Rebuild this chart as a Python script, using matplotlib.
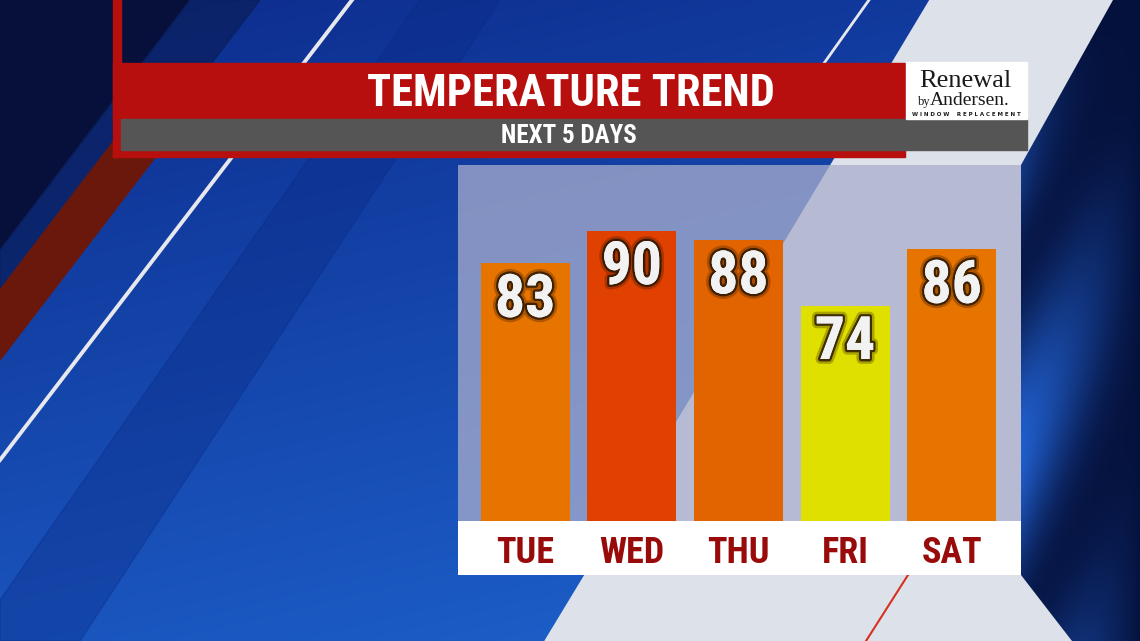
import numpy as np
import matplotlib
matplotlib.use('Agg')
import matplotlib.pyplot as plt
from matplotlib.patches import Rectangle, Polygon
from matplotlib import font_manager as fm
import matplotlib.patheffects as pe

# Datos del gráfico
days = ['TUE', 'WED', 'THU', 'FRI', 'SAT']
temps = [83, 90, 88, 74, 86]
bar_colors = ['#e87400', '#e04000', '#e26400', '#e0e000', '#e87400']
title = 'TEMPERATURE TREND'
subtitle = 'NEXT 5 DAYS'


# buscar una fuente estrecha en negrita (si no hay, Liberation Sans)
def narrow_font():
    entries = fm.fontManager.ttflist
    bold = [f for f in entries if (f.weight if isinstance(f.weight, int) else 400) >= 600
            or str(f.weight) in ('bold', 'heavy', 'black')]
    for key in ['Liberation Sans Narrow', 'Roboto Condensed', 'Open Sans Condensed']:
        for f in bold:
            if f.name == key:
                return f.fname
    for f in bold:
        if f.name in ('Noto Sans', 'Roboto', 'Open Sans') and f.stretch in ('condensed', 'semi-condensed'):
            return f.fname
    for f in bold:
        if f.name == 'DejaVu Sans' and f.stretch == 'condensed':
            return f.fname
    return None


nf = narrow_font()


def nprop(size):
    if nf:
        return fm.FontProperties(fname=nf, size=size)
    return fm.FontProperties(family=['Liberation Sans', 'DejaVu Sans'], weight='bold', size=size)


serif = ['Liberation Serif', 'DejaVu Serif']

fig = plt.figure(figsize=(11.4, 6.41), dpi=100)

# Fondo (coordenadas en pixeles)
bg = fig.add_axes([0, 0, 1, 1])
yy, xx = np.mgrid[0:641:4, 0:1140:4]
t = np.clip((yy / 641) * 0.7 + (xx / 1140) * 0.3, 0, 1)
c0 = np.array([0.05, 0.17, 0.55])
c1 = np.array([0.12, 0.40, 0.82])
bg.imshow(c0 + (c1 - c0) * t[..., None], extent=(0, 1140, 641, 0),
          aspect='auto', interpolation='bilinear', zorder=0)

bg.add_patch(Polygon([(0, 0), (190, 0), (0, 250)], color='#06103a', zorder=1))
bg.add_patch(Polygon([(190, 0), (260, 0), (0, 340), (0, 250)], color='#0a2060', alpha=0.8, zorder=1))
bg.add_patch(Polygon([(145, 100), (199, 100), (0, 360), (0, 290)], color='#6a180c', zorder=1))
bg.add_patch(Polygon([(420, 0), (500, 0), (80, 641), (0, 641), (0, 600)], color='#0a2a85', alpha=0.35, zorder=1))
bg.plot([352, 0], [0, 460], color='#e6e8ee', lw=2.8, zorder=2)
bg.plot([869, 805], [0, 90], color='#e6e8ee', lw=2.0, zorder=2)

# zona clara a la derecha
bg.add_patch(Polygon([(930, 0), (1113, 0), (1021, 165), (1021, 575), (1072, 641), (545, 641), (585, 575)],
                     color='#dde1e9', zorder=1))
# panel oscuro derecho (cielo nublado)
dark = Polygon([(1113, 0), (1140, 0), (1140, 641), (1072, 641), (1021, 575), (1021, 165)],
               facecolor='none', lw=0, zorder=2)
bg.add_patch(dark)
sy, sx = np.mgrid[0:641:2, 1010:1140:2]
u = (sx - 1015) / 125.0
v = sy / 641.0
b = (1 - u) * (0.55 + 0.45 * np.sin(v * 11 + u * 4)) * np.clip((v - 0.05) * 4, 0, 1)
b = np.clip(b, 0, 1)[..., None]
sky = np.array([0.02, 0.07, 0.24]) + (np.array([0.13, 0.38, 0.82]) - np.array([0.02, 0.07, 0.24])) * b
im = bg.imshow(sky, extent=(1010, 1140, 641, 0), aspect='auto', interpolation='bilinear', zorder=2)
im.set_clip_path(dark)
bg.plot([908, 866], [575, 641], color='#d83020', lw=1.5, zorder=2)

# Marco del título
red = '#b70e0e'
bg.add_patch(Rectangle((113, 0), 8, 157, color=red, zorder=5))
bg.add_patch(Rectangle((113, 63), 792, 56, color=red, zorder=5))
bg.add_patch(Rectangle((113, 150), 792, 7, color=red, zorder=5))
bg.add_patch(Rectangle((121, 119), 906, 31, color='#555555', zorder=6))
bg.add_patch(Rectangle((906, 62), 121, 57, color='white', zorder=6))

bg.text(571, 106, title, ha='center', va='baseline', fontproperties=nprop(32),
        color='white', zorder=7)
bg.text(569, 143, subtitle, ha='center', va='baseline', fontproperties=nprop(18),
        color='white', zorder=7)

# Logo
bg.text(965, 87, 'Renewal', ha='center', va='baseline', fontsize=19, family=serif,
        color='#1a1a1a', zorder=7)
bg.text(918, 105, 'by', ha='left', va='baseline', fontsize=9, family=serif,
        color='#1a1a1a', zorder=7)
bg.text(930, 105, 'Andersen.', ha='left', va='baseline', fontsize=14, family=serif,
        color='#1a1a1a', zorder=7)
bg.text(966, 115.5, 'W I N D O W    R E P L A C E M E N T', ha='center', va='baseline',
        fontsize=4.0, fontweight='bold', family=['DejaVu Sans'], color='#1a1a1a', zorder=7)

# Panel del gráfico
bg.add_patch(Rectangle((458, 165), 563, 356, facecolor='#a9aecc', alpha=0.75, zorder=4))
bg.add_patch(Rectangle((458, 521), 563, 54, facecolor='white', zorder=4))

bg.set_xlim(0, 1140)
bg.set_ylim(641, 0)
bg.axis('off')

# Barras
ax = fig.add_axes([458 / 1140, (641 - 521) / 641, 563 / 1140, 356 / 641])
ax.patch.set_alpha(0)
ax.bar(range(len(days)), temps, width=0.835, color=bar_colors)
ax.set_xlim(-0.63, 4.65)
ax.set_ylim(28, 104)
ax.axis('off')

shadow = [pe.withStroke(linewidth=7, foreground=(0.18, 0.09, 0.0, 0.3)),
          pe.withStroke(linewidth=3.5, foreground=(0.15, 0.08, 0.0, 0.8)),
          pe.Normal()]
for i, v in enumerate(temps):
    ax.annotate(str(v), (i, v), xytext=(0, -38.5), textcoords='offset points',
                ha='center', va='baseline', fontproperties=nprop(43),
                color='#f2f2f2', path_effects=shadow, annotation_clip=False)

for i, d in enumerate(days):
    ax.text(i, -0.118, d, transform=ax.get_xaxis_transform(), ha='center',
            va='baseline', fontproperties=nprop(26), color='#990a0a', clip_on=False)

plt.savefig('out.png', dpi=100)
